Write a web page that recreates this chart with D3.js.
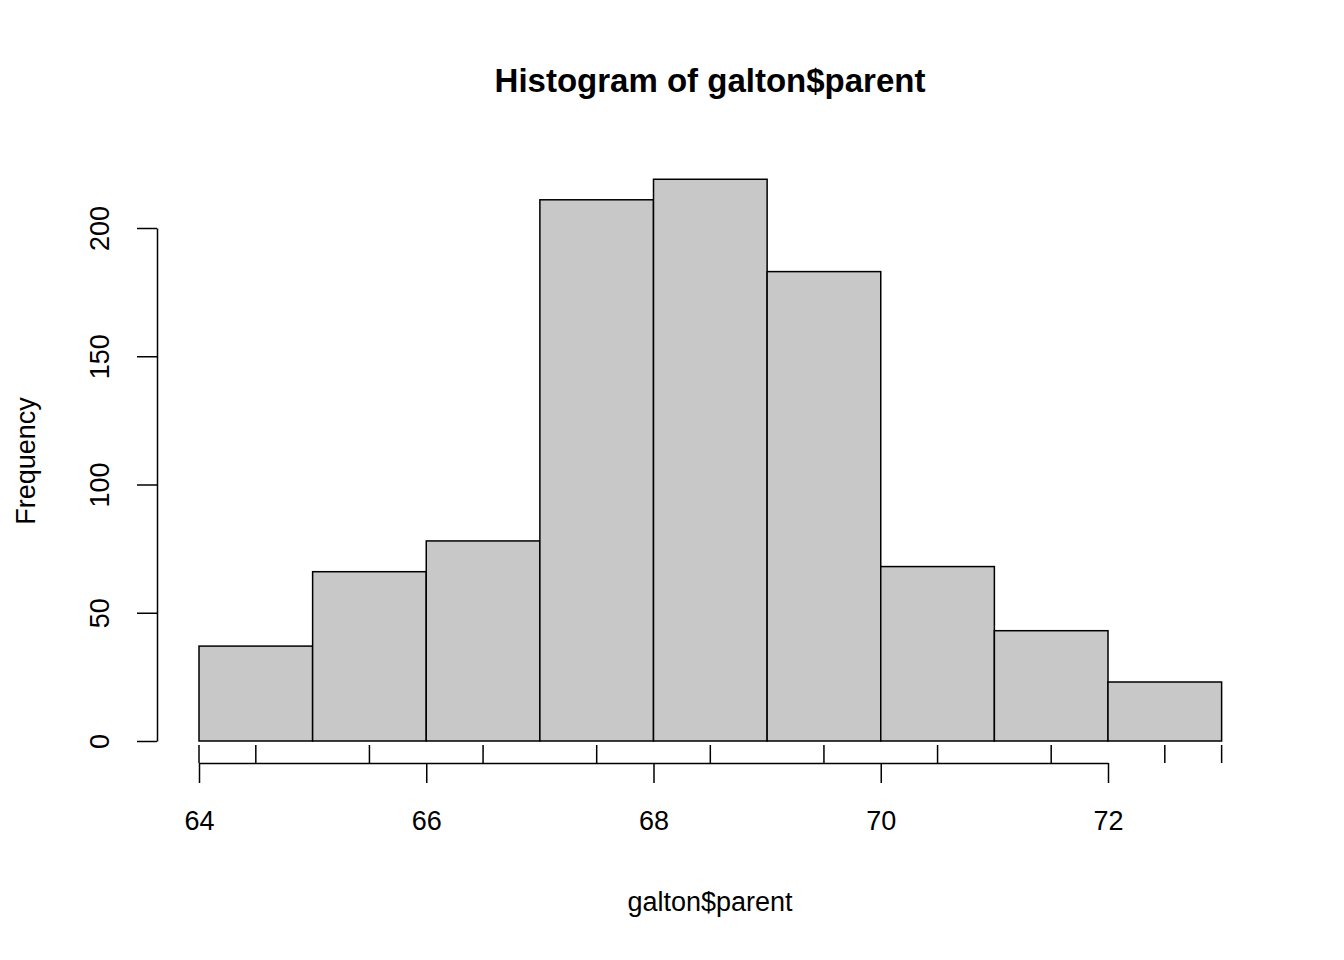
<!DOCTYPE html>
<html><head><meta charset="utf-8">
<script src="https://cdn.jsdelivr.net/npm/d3@7"></script>
<style>body{margin:0;background:#fff}text{font-family:"Liberation Sans",Arial,sans-serif}</style>
</head><body>
<svg id="chart" width="1344" height="960"></svg>
<script>
var BREAKS = [64, 65, 66, 67, 68, 69, 70, 71, 72, 73];
var COUNTS = [37, 66, 78, 211, 219, 183, 68, 43, 23];
var RUG = [64, 64.5, 65.5, 66.5, 67.5, 68.5, 69.5, 70.5, 71.5, 72.5, 73];
var XTICKS = [64, 66, 68, 70, 72];
var YTICKS = [0, 50, 100, 150, 200];

var svg = d3.select("#chart");
var x = d3.scaleLinear().domain([64, 72]).range([199, 1108]);
var y = d3.scaleLinear().domain([0, 200]).range([741, 228]);

// bars
svg.selectAll(".bar")
    .data(COUNTS)
    .enter().append("rect")
    .attr("x", function (d, i) { return x(BREAKS[i]); })
    .attr("y", function (d) { return y(d); })
    .attr("width", function (d, i) { return x(BREAKS[i + 1]) - x(BREAKS[i]); })
    .attr("height", function (d) { return y(0) - y(d); })
    .attr("fill", "#c8c8c8").attr("stroke", "#000").attr("stroke-width", 1.5);

// rug
svg.selectAll(".rug")
    .data(RUG)
    .enter().append("line")
    .attr("x1", function (d) { return x(d); }).attr("x2", function (d) { return x(d); })
    .attr("y1", 745).attr("y2", 763)
    .attr("stroke", "#000").attr("stroke-width", 1.5);

// x axis
var gx = svg.append("g").attr("transform", "translate(0,763)")
    .call(d3.axisBottom(x).tickValues(XTICKS).tickSize(20).tickPadding(28).tickSizeOuter(0));
gx.selectAll("text").attr("font-size", 27).attr("fill", "#000");

// y axis
var gy = svg.append("g").attr("transform", "translate(157,0)")
    .call(d3.axisLeft(y).tickValues(YTICKS).tickSize(20).tickPadding(18).tickSizeOuter(0));
gy.selectAll("text").attr("font-size", 27).attr("fill", "#000")
    .attr("text-anchor", "middle").attr("x", null).attr("dy", null)
    .attr("transform", "translate(-48,0) rotate(-90)");

svg.selectAll(".domain, .tick line").attr("stroke", "#000").attr("stroke-width", 1.5);

svg.append("text").attr("x", 710).attr("y", 92).attr("text-anchor", "middle")
    .attr("font-size", 33).attr("font-weight", "bold").text("Histogram of galton$parent");
svg.append("text").attr("x", 710).attr("y", 911).attr("text-anchor", "middle")
    .attr("font-size", 27).text("galton$parent");
svg.append("text").attr("transform", "translate(35,461) rotate(-90)").attr("text-anchor", "middle")
    .attr("font-size", 27).text("Frequency");
</script>
</body></html>
